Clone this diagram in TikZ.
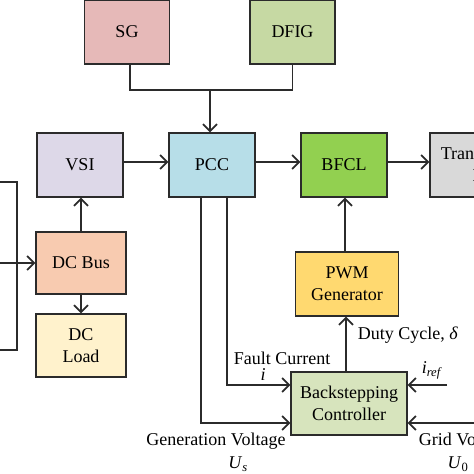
\documentclass[tikz,border=0pt]{standalone}
\usepackage{fontspec}
\setmainfont{Liberation Serif}
\usetikzlibrary{arrows.meta, positioning}
\definecolor{sgred}{HTML}{E6B9B8}
\definecolor{dfiggreen}{HTML}{C6D9A3}
\definecolor{vsipurple}{HTML}{DDD8E8}
\definecolor{pccblue}{HTML}{B7DEE8}
\definecolor{bfclgreen}{HTML}{92D050}
\definecolor{tlgray}{HTML}{D9D9D9}
\definecolor{busorange}{HTML}{F8CBB0}
\definecolor{loadyellow}{HTML}{FFF2CC}
\definecolor{pwmyellow}{HTML}{FFD970}
\definecolor{ctrlgreen}{HTML}{D7E4BD}
\definecolor{edgegray}{HTML}{2B2B2B}

\begin{document}
\begin{tikzpicture}[x=1pt, y=-1pt, line width=1.7pt, >={Straight Barb[length=7pt, width=14pt]},
  every node/.style={font=\fontsize{18}{22}\selectfont}]
  % Define styles
  \tikzstyle{block} = [rectangle, draw=edgegray, line width=1.4pt, minimum width=86pt, minimum height=64pt, inner sep=2pt, text centered, align=center]
  \tikzstyle{line} = [draw=edgegray, ->]
  \tikzstyle{wire} = [draw=edgegray]
  \tikzstyle{lbl} = [inner sep=0pt]

  \useasboundingbox (0,0) rectangle (474,474);
  \clip (0,0) rectangle (474,474);

  % Place nodes
  \node [block, fill=sgred, minimum width=85pt] (SG) at (127,32) {SG};
  \node [block, fill=dfiggreen, minimum width=85pt] (DFIG) at (292.5,32) {DFIG};
  \node [block, fill=vsipurple] (VSI) at (80,165) {VSI};
  \node [block, fill=pccblue] (PCC) at (212,165) {PCC};
  \node [block, fill=bfclgreen] (BFCL) at (344,165) {BFCL};
  \node [block, fill=tlgray, minimum width=118pt] (TL) at (489,165) {Transmission\\Line};
  \node [block, fill=busorange, minimum width=90pt, minimum height=62pt] (DCbus) at (81,263) {DC Bus};
  \node [block, fill=loadyellow, minimum width=90pt, minimum height=63pt] (DCload) at (81,345.5) {DC\\Load};
  \node [block, fill=pwmyellow, minimum width=103pt] (PWM) at (347,284) {PWM\\Generator};
  \node [block, fill=ctrlgreen, minimum width=116pt, minimum height=63pt] (BSC) at (349,403.5) {Backstepping\\Controller};

  % Labels
  \node [lbl, anchor=west] (dutyLbl) at (357,335) {Duty Cycle, \textit{δ}};
  \node [lbl] (faultLbl) at (282,358) {Fault Current};
  \node [lbl] (iLbl) at (263,375) {\textit{i}};
  \node [lbl] (genLbl) at (216,441) {Generation Voltage};
  \node [lbl] (usLbl) at (238,464) {\textit{U}\textsubscript{\textit{s}}};
  \node [lbl] (irefLbl) at (432,370) {\textit{i}\textsubscript{\textit{ref}}};
  \node [lbl, anchor=west] (gridLbl) at (418,441) {Grid Voltage};
  \node [lbl] (u0Lbl) at (458,464) {\textit{U}\textsubscript{0}};

  % Free ends
  \coordinate (join) at (210,90);
  \coordinate (lt) at (0,182);
  \coordinate (lx) at (17,263);
  \coordinate (lb) at (0,350);
  \coordinate (lm) at (0,263);
  \coordinate (iref) at (447,385);
  \coordinate (grid) at (480,423);

  % Draw edges
  \path [wire] ([xshift=3pt]SG.south) |- (join) -| (DFIG.south);
  \path [line] (join) -- (join |- PCC.north);
  \path [line] ([yshift=3pt]VSI.east) -- ([yshift=3pt]PCC.west);
  \path [line] ([yshift=3pt]PCC.east) -- ([yshift=3pt]BFCL.west);
  \path [line] ([yshift=3pt]BFCL.east) -- ([yshift=3pt]TL.west);
  \path [line] (DCbus.north) -- (DCbus.north |- VSI.south);
  \path [line] (DCbus.south) -- (DCload.north);
  \path [wire] (lt) -| (lx) |- (lb);
  \path [line] (lm) -- (DCbus.west);
  \path [line] ([xshift=-2pt]PWM.north) -- ([xshift=-2pt]PWM.north |- BFCL.south);
  \path [line] ([xshift=-3pt]BSC.north) -- ([xshift=-3pt]BSC.north |- PWM.south);
  \path [line] ([xshift=15pt]PCC.south) |- ([yshift=18.5pt]BSC.west);
  \path [line] ([xshift=-11pt]PCC.south) |- ([yshift=-19.5pt]BSC.west);
  \path [line] (iref) -- (iref -| BSC.east);
  \path [line] (grid) -- (grid -| BSC.east);
\end{tikzpicture}
\end{document}
